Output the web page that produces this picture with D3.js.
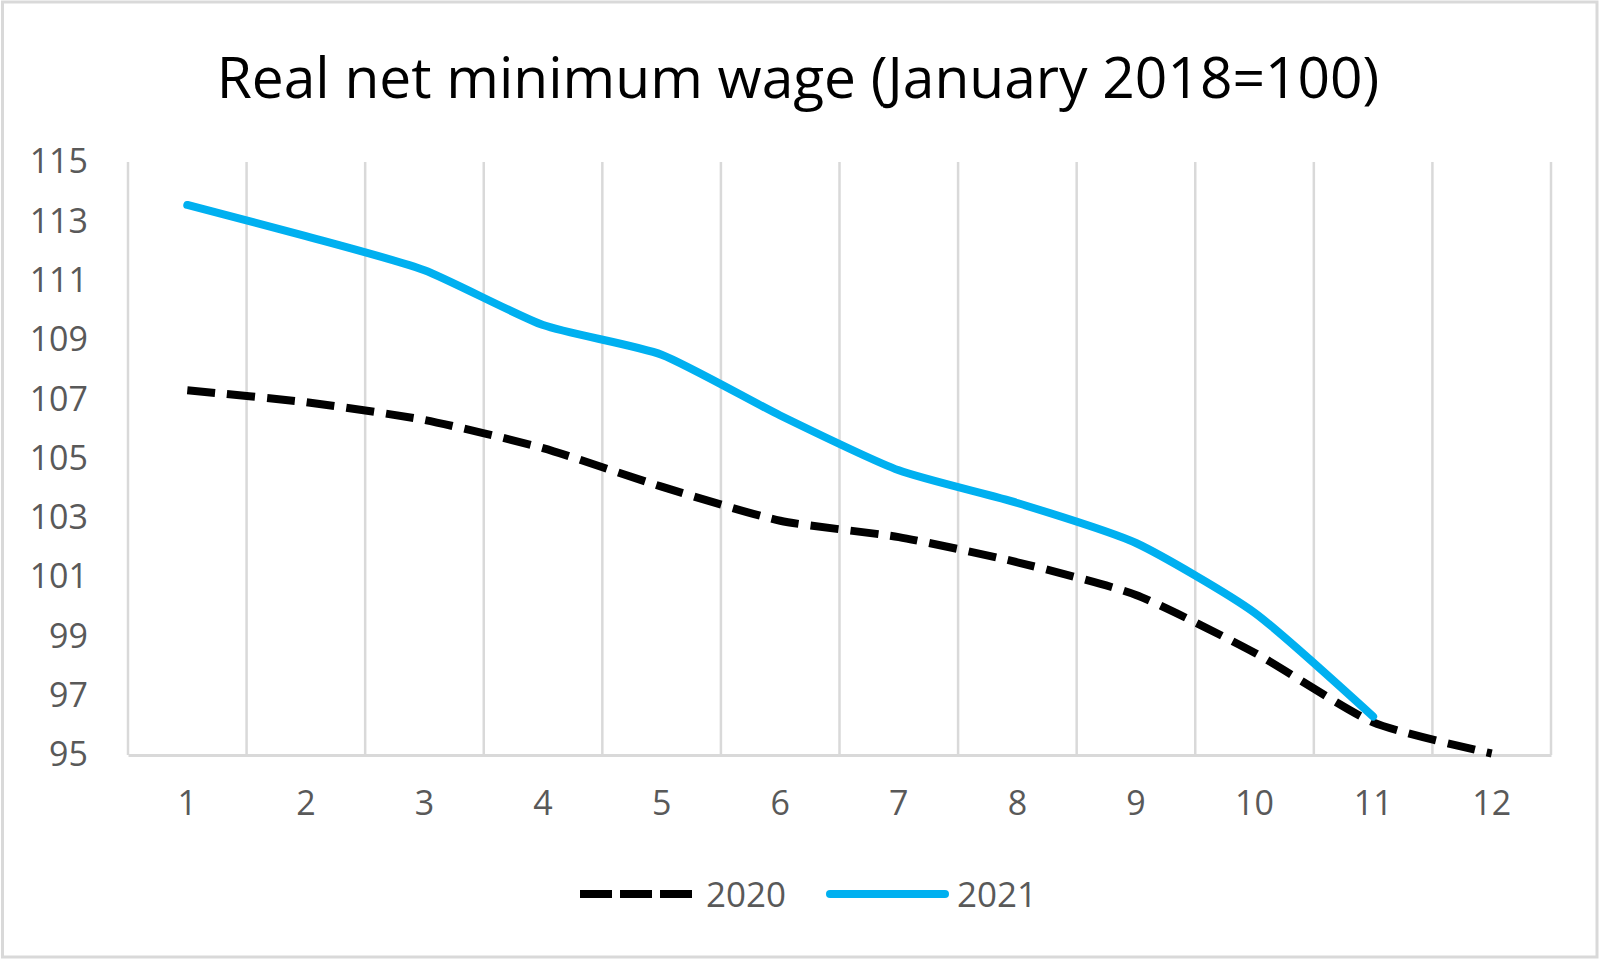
<!DOCTYPE html>
<html>
<head>
<meta charset="utf-8">
<script src="https://cdn.jsdelivr.net/npm/d3@7"></script>
<style>
  html, body { margin: 0; padding: 0; background: #fff; }
  svg { display: block; }
</style>
</head>
<body>
<svg id="chart" width="1600" height="960"></svg>
<script>
const title = "Real net minimum wage (January 2018=100)";
const months = [1, 2, 3, 4, 5, 6, 7, 8, 9, 10, 11, 12];
const yTicks = [95, 97, 99, 101, 103, 105, 107, 109, 111, 113, 115];
const seriesNames = ["2020", "2021"];
const values2020 = [107.3, 106.9, 106.3, 105.35, 104.05, 102.9, 102.35, 101.5, 100.4, 98.45, 96.1, 95.05];
const values2021 = [113.55, 112.5, 111.35, 109.5, 108.5, 106.45, 104.6, 103.5, 102.15, 99.8, 96.3];

const W = 1600, H = 960;
const plot = { left: 128, right: 1551, top: 162, bottom: 755 };
const svg = d3.select("#chart");
const font = "'Open Sans', 'Noto Sans', sans-serif";
const gray = "#595959";
const gridColor = "#d9d9d9";

// outer border
svg.append("rect")
  .attr("x", 2.5).attr("y", 2).attr("width", W - 5.5).attr("height", H - 5)
  .attr("fill", "#fff").attr("stroke", gridColor).attr("stroke-width", 3);

const x = d3.scaleBand().domain(months).range([plot.left, plot.right]).padding(0);
const y = d3.scaleLinear().domain([95, 115]).range([plot.bottom, plot.top]);
const cx = d => x(d) + x.bandwidth() / 2;

// vertical gridlines at category boundaries
const bounds = months.map(m => x(m)).concat([plot.right]);
svg.append("g").selectAll("line").data(bounds).join("line")
  .attr("x1", d => d).attr("x2", d => d)
  .attr("y1", plot.top).attr("y2", plot.bottom)
  .attr("stroke", gridColor).attr("stroke-width", 2.5);

// y axis
const yAxis = svg.append("g")
  .attr("transform", `translate(${plot.left},0)`)
  .call(d3.axisLeft(y).tickValues(yTicks).tickSize(0).tickPadding(40));
yAxis.select(".domain").remove();
yAxis.selectAll("text")
  .attr("fill", gray).style("font-family", font).style("font-size", "34px")
  .attr("dy", "0.32em");

// x axis
const xAxis = svg.append("g")
  .attr("transform", `translate(0,${plot.bottom})`)
  .call(d3.axisBottom(x).tickSize(0).tickPadding(36));
xAxis.select(".domain").attr("stroke", gridColor).attr("stroke-width", 3);
xAxis.selectAll("text")
  .attr("fill", gray).style("font-family", font).style("font-size", "34px");

// lines
const line = d3.line()
  .x((d, i) => cx(months[i]))
  .y(d => y(d))
  .curve(d3.curveCardinal.tension(0.4));

svg.append("path").datum(values2020)
  .attr("d", line).attr("fill", "none")
  .attr("stroke", "#000").attr("stroke-width", 8)
  .attr("stroke-dasharray", "28,12");

svg.append("path").datum(values2021)
  .attr("d", line).attr("fill", "none")
  .attr("stroke", "#00b0f0").attr("stroke-width", 8)
  .attr("stroke-linecap", "round");

// title
const t = svg.append("text")
  .attr("x", 798).attr("y", 98)
  .attr("text-anchor", "middle")
  .style("font-family", font).style("font-size", "62px")
  .attr("fill", "#000").text(title);
const tw = t.node().getComputedTextLength();
t.style("font-size", (62 * 1163 / tw) + "px");

// legend
const legY = 894;
const leg = svg.append("g");
leg.append("line").attr("x1", 580).attr("x2", 693).attr("y1", legY).attr("y2", legY)
  .attr("stroke", "#000").attr("stroke-width", 8).attr("stroke-dasharray", "32,8");
leg.append("text").attr("x", 706).attr("y", legY).attr("dy", "0.36em")
  .attr("fill", gray).style("font-family", font).style("font-size", "35px")
  .text(seriesNames[0]);
leg.append("line").attr("x1", 830).attr("x2", 945).attr("y1", legY).attr("y2", legY)
  .attr("stroke", "#00b0f0").attr("stroke-width", 8).attr("stroke-linecap", "round");
leg.append("text").attr("x", 957).attr("y", legY).attr("dy", "0.36em")
  .attr("fill", gray).style("font-family", font).style("font-size", "35px")
  .text(seriesNames[1]);
</script>
</body>
</html>
